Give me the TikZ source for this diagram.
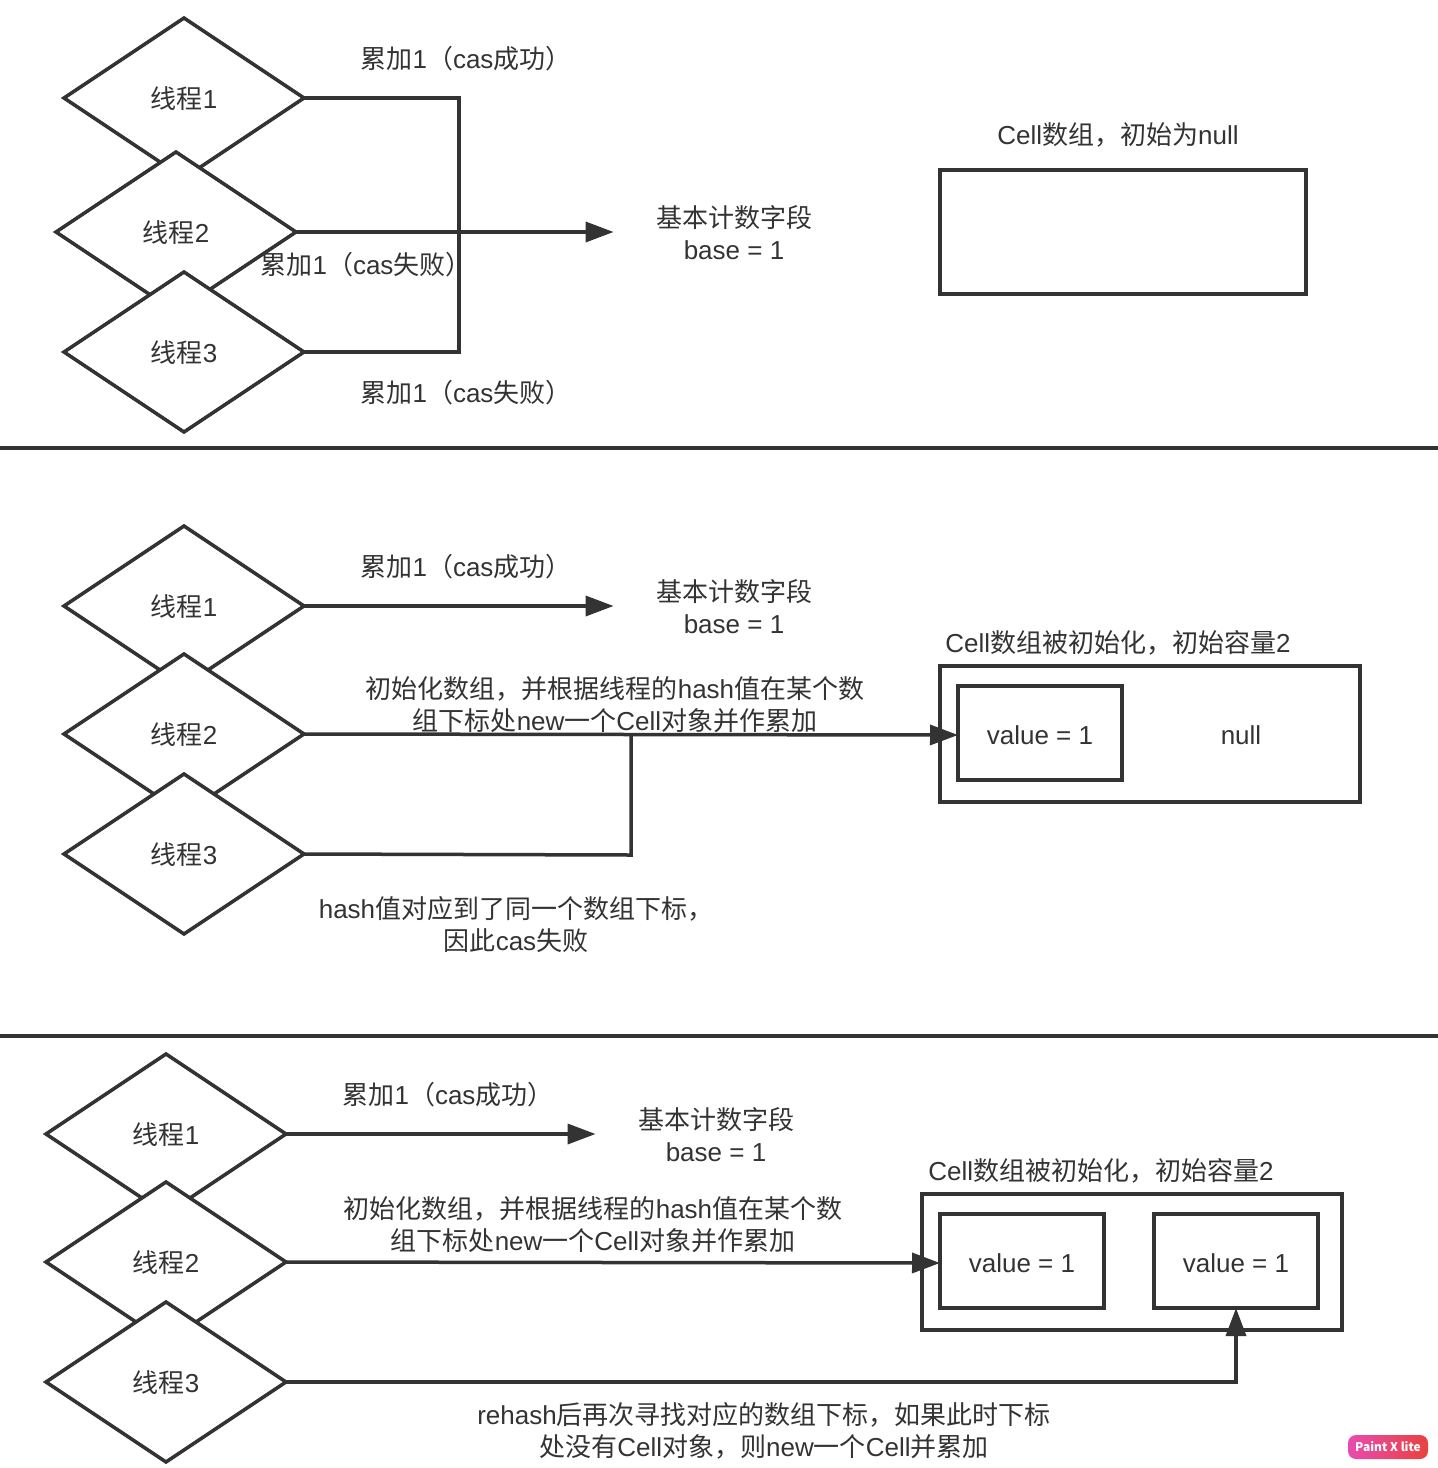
\documentclass[tikz,border=0pt]{standalone}
\usepackage{fontspec}
\setmainfont{Noto Sans CJK SC}
\newfontfamily\latinfont{Liberation Sans}
\newcommand{\lat}[1]{{\latinfont #1}}
\usetikzlibrary{shapes.geometric, arrows.meta}
\definecolor{inkgray}{HTML}{333333}
\definecolor{badgel}{HTML}{E84BB0}
\definecolor{badger}{HTML}{E9423F}
\tikzset{
	thread/.style = {diamond, draw = inkgray, fill = white, line width = 1.75pt, shape aspect = 1.5, minimum width = 120pt, minimum height = 80pt, inner sep = 0pt, outer sep = 0pt, text height = 12.4pt, text depth = 1.6pt},
	cellbox/.style = {rectangle, draw = inkgray, line width = 1.75pt, inner sep = 0pt, outer sep = 0pt},
	valuebox/.style = {cellbox, minimum width = 82pt, minimum height = 47pt, text height = 11.4pt, text depth = 0pt},
	label/.style = {align = center, inner sep = 0pt},
	basefield/.style = {align = center, inner sep = 0pt, minimum width = 120pt},
	link/.style = {draw = inkgray, line width = 1.75pt},
	arrowlink/.style = {link, -{Triangle[length = 14pt, width = 10pt]}}
}
\begin{document}
\begin{tikzpicture}[x = 0.5pt, y = -0.5pt, color = inkgray, font = \fontsize{13}{16}\selectfont]
	\useasboundingbox (0, 0) rectangle (1438, 1468);
	% three stages, split by two rules
	\draw[link] (0, 448) -- (1438, 448);
	\draw[link] (0, 1036) -- (1438, 1036);
	\foreach \name/\x/\y/\txt in {d11/184/98/1, d12/176/232/2, d13/184/352/3, d21/184/606/1, d22/184/734/2, d23/184/854/3, d31/166/1134/1, d32/166/1262/2, d33/166/1382/3}
		\node[thread] (\name) at (\x, \y) {线程\lat{\txt}};
	% first stage
	\node[basefield] (base1) at (734, 233) {基本计数字段\\\lat{base = 1}};
	\node[cellbox, minimum width = 183pt, minimum height = 62pt] (cells1) at (1123, 232) {};
	\node[label] (title1) at (1118, 135) {\lat{Cell}数组，初始为\lat{null}};
	\node[label] (add11) at (466, 59) {累加\lat{1}（\lat{cas}成功）};
	\node[label] (add12) at (366, 265) {累加\lat{1}（\lat{cas}失败）};
	\node[label] (add13) at (466, 393) {累加\lat{1}（\lat{cas}失败）};
	\coordinate (bend11) at (459, 98);
	\coordinate (bend13) at (459, 352);
	\draw[link] (d11.east) -- (bend11) -- (bend13) -- (d13.east);
	\draw[arrowlink] (d12.east) -- (d12.east -| base1.west);
	% second stage
	\node[basefield] (base2) at (734, 607) {基本计数字段\\\lat{base = 1}};
	\node[cellbox, minimum width = 210pt, minimum height = 68pt] (cells2) at (1150, 734) {};
	\node[valuebox] (value2) at (1040, 733) {\lat{value = 1}};
	\node[label] (null2) at (1241, 735) {\lat{null}};
	\node[label] (title2) at (1118, 643) {\lat{Cell}数组被初始化，初始容量\lat{2}};
	\node[label] (add21) at (466, 567) {累加\lat{1}（\lat{cas}成功）};
	\node[label] (init2) at (615, 705) {初始化数组，并根据线程的\lat{hash}值在某个数\\组下标处\lat{new}一个\lat{Cell}对象并作累加};
	\node[label] (fail2) at (516, 925) {\lat{hash}值对应到了同一个数组下标，\\因此\lat{cas}失败};
	\coordinate (bend2) at (631, 855);
	\coordinate (join2) at (631, 735);
	\draw[arrowlink] (d21.east) -- (d21.east -| base2.west);
	\draw[arrowlink] (d22.east) -- ([yshift = -1pt]value2.west);
	\draw[link] (d23.east) -- (bend2) -- (join2);
	% third stage
	\node[basefield] (base3) at (716, 1135) {基本计数字段\\\lat{base = 1}};
	\node[cellbox, minimum width = 210pt, minimum height = 68pt] (cells3) at (1132, 1262) {};
	\node[valuebox] (value31) at (1022, 1261) {\lat{value = 1}};
	\node[valuebox] (value32) at (1236, 1261) {\lat{value = 1}};
	\node[label] (title3) at (1101, 1171) {\lat{Cell}数组被初始化，初始容量\lat{2}};
	\node[label] (add31) at (448, 1095) {累加\lat{1}（\lat{cas}成功）};
	\node[label] (init3) at (593, 1225) {初始化数组，并根据线程的\lat{hash}值在某个数\\组下标处\lat{new}一个\lat{Cell}对象并作累加};
	\node[label] (rehash3) at (764, 1431) {\lat{rehash}后再次寻找对应的数组下标，如果此时下标\\处没有\lat{Cell}对象，则\lat{new}一个\lat{Cell}并累加};
	\coordinate (bend3) at (1236, 1382);
	\draw[arrowlink] (d31.east) -- (d31.east -| base3.west);
	\draw[arrowlink] (d32.east) -- ([yshift = -1pt]value31.west);
	\draw[arrowlink] (d33.east) -- (bend3) -- (value32.south);
	% badge
	\node[rectangle, rounded corners = 4pt, left color = badgel, right color = badger, minimum width = 40pt, minimum height = 12pt, inner sep = 0pt, text = white, font = \fontsize{6}{7}\selectfont\bfseries] (badge) at (1388, 1447) {Paint X lite};
\end{tikzpicture}
\end{document}
